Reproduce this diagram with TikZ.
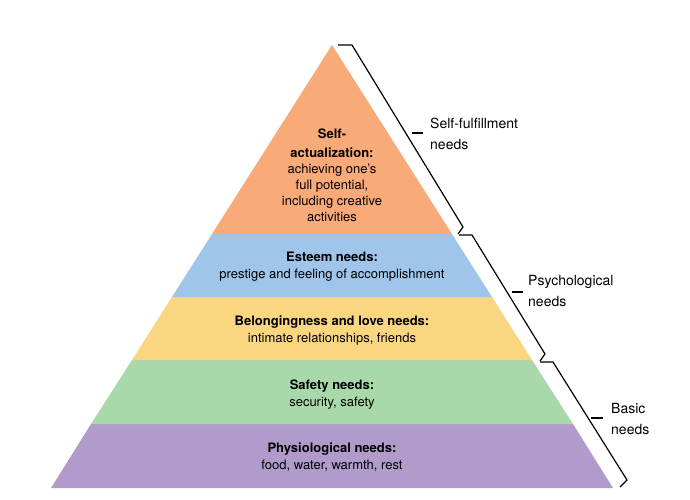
\documentclass[tikz,border=0pt]{standalone}
\usepackage{fontspec}
\setmainfont{TeX Gyre Heros}
\usepackage{tikz}
\usetikzlibrary{positioning}
\definecolor{selfcol}{HTML}{F8AA78}
\definecolor{esteemcol}{HTML}{9FC5EA}
\definecolor{lovecol}{HTML}{FBD680}
\definecolor{safecol}{HTML}{A9D9AA}
\definecolor{physcol}{HTML}{B09BCB}
\tikzset{
  tier/.style={align=center,font=\fontsize{13}{19}\selectfont,inner sep=0pt},
  side/.style={align=left,anchor=west,font=\fontsize{14}{21}\selectfont,inner sep=0pt},
  brace/.style={line width=1.2pt,line join=miter}
}
\begin{document}
\begin{tikzpicture}[x=1pt,y=-1pt]
  \useasboundingbox (0,0) rectangle (690,500);
  \fill[white] (0,0) rectangle (690,500);

  % Layers
  \fill[physcol]   (51,488) -- (613,488) -- (573,424) -- (91,424) -- cycle;
  \fill[safecol]   (91,424) -- (573,424) -- (532,360) -- (132,360) -- cycle;
  \fill[lovecol]   (132,360) -- (532,360) -- (492,297) -- (172,297) -- cycle;
  \fill[esteemcol] (172,297) -- (492,297) -- (452,234) -- (212,234) -- cycle;
  \fill[selfcol]   (212,234) -- (452,234) -- (332,45) -- cycle;

  % Texts
  \node[tier] (self) at (332,175)
       {\textbf{Self-}\\ \textbf{actualization:}\\[-3pt] achieving one’s\\[-3pt] full potential,\\[-3pt] including creative\\[-3pt] activities};
  \node[tier] (esteem) at (332,267) {\textbf{Esteem needs:}\\[-2pt] prestige and feeling of accomplishment};
  \node[tier] (love) at (332,331) {\textbf{Belongingness and love needs:}\\[-2pt] intimate relationships, friends};
  \node[tier] (safety) at (332,395) {\textbf{Safety needs:}\\[-2pt] security, safety};
  \node[tier] (physio) at (332,457) {\textbf{Physiological needs:}\\[-2pt] food, water, warmth, rest};

  % Brackets
  \coordinate (fulltick) at (423,133);
  \coordinate (psytick) at (523,292);
  \coordinate (basictick) at (603,418);
  \draw[brace] (338,45) -- (352,45) -- (463,227) -- (458,234);
  \draw[brace] (412,133) -- (fulltick);
  \draw[brace] (459,235) -- (472,235) -- (545,354) -- (540,361);
  \draw[brace] (512,292) -- (psytick);
  \draw[brace] (540,362) -- (553,362) -- (627,480) -- (620,487);
  \draw[brace] (591,418) -- (basictick);

  \node[side] (fulfil) at (430,134) {Self-fulfillment\\ needs};
  \node[side] (psych) at (528,291) {Psychological\\ needs};
  \node[side] (basic) at (611,419) {Basic\\ needs};
\end{tikzpicture}
\end{document}
